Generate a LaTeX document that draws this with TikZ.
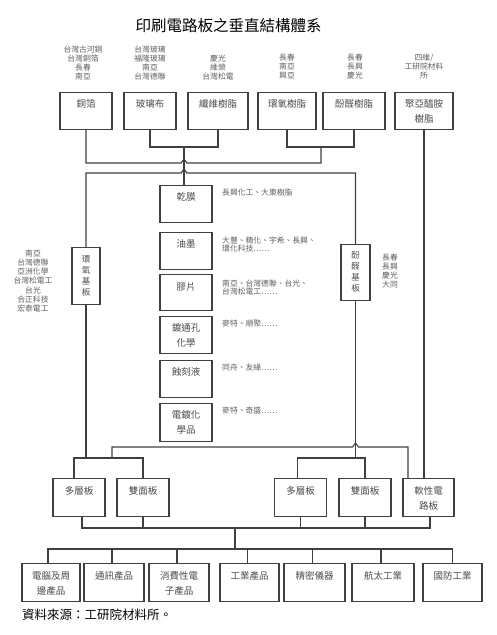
\documentclass[tikz,border=0pt]{standalone}
\usepackage{fontspec}
\setmainfont{Noto Sans CJK TC}
\usetikzlibrary{calc}
\definecolor{lc}{HTML}{404040}
\definecolor{tc}{HTML}{4a4a4a}
\definecolor{gc}{HTML}{5e5e5e}
\tikzset{
 box/.style={draw=lc, line width=1.1pt, rectangle, inner sep=0pt, anchor=north},
 conn/.style={draw=lc, line width=1.1pt},
 btext/.style={text=tc, font=\fontsize{9.5}{15}\selectfont, align=center, inner sep=0pt, anchor=north},
 vtext/.style={text=tc, font=\fontsize{8.5}{11}\selectfont, align=center, inner sep=0pt, anchor=north},
 lbl/.style={text=gc, font=\fontsize{7.8}{9.2}\selectfont, align=center, inner sep=0pt, anchor=north},
 lblw/.style={text=gc, font=\fontsize{7.8}{8.5}\selectfont, align=left, inner sep=0pt, anchor=north west},
}
\newcommand\mkbox[7]{%
  \node[box, minimum width=#4pt, minimum height=#5pt] (#1) at (#2,#3) {};
  \node[btext] (#1-t) at ([yshift=-#6pt]#1.north) {#7};
}
\begin{document}
\begin{tikzpicture}[x=1pt,y=-1pt]
\useasboundingbox (0,0) rectangle (497,635);
% title
\node[font=\fontsize{15.5}{18}\selectfont, inner sep=0pt] (title) at (228.5,26) {印刷電路板之垂直結構體系};
% top labels
\node[lbl] (l-cu) at (83,45.3) {台灣古河銅\\台灣銅箔\\長春\\南亞};
\node[lbl] (l-gl) at (150,45.3) {台灣玻璃\\福隆玻璃\\南亞\\台灣德聯};
\node[lbl] (l-fb) at (218,54.3) {慶光\\維榮\\台灣松電};
\node[lbl] (l-ep) at (287,53.3) {長春\\南亞\\興亞};
\node[lbl] (l-ph) at (355,53.3) {長春\\長興\\慶光};
\node[lbl] (l-pi) at (424,53.3) {四維/\\工研院材料\\所};
% top boxes
\mkbox{cu}{86}{92}{52}{37}{7}{銅箔}
\mkbox{glass}{150}{92}{52}{37}{7}{玻璃布}
\mkbox{fiber}{218}{92}{60}{37}{7}{纖維樹脂}
\mkbox{epoxy}{287}{92}{58}{37}{7}{環氧樹脂}
\mkbox{phenol}{354}{92}{62}{37}{7}{酚醛樹脂}
\mkbox{pi}{424}{92}{58}{37}{7}{聚亞醯胺\\樹脂}
% middle column
\mkbox{dry}{186}{185}{52}{37}{7.5}{乾膜}
\mkbox{ink}{186}{232}{52}{37}{7.5}{油墨}
\mkbox{film}{186}{274}{52}{36}{8}{膠片}
\mkbox{pth}{186}{316}{52}{37}{7.5}{鍍通孔\\化學}
\mkbox{etch}{186}{360}{52}{37}{7}{蝕刻液}
\mkbox{plate}{186}{403}{52}{38}{7.5}{電鍍化\\學品}
% middle labels
\node[lblw] (l-dry) at (222,188.3) {長興化工、大東樹脂};
\node[lblw] (l-ink) at (222,236.3) {大豐、精化、宇希、長興、\\環化科技……};
\node[lblw] (l-film) at (222,279.3) {南亞、台灣德聯、台光、\\台灣松電工……};
\node[lblw] (l-pth) at (222,319.3) {麥特、順聚……};
\node[lblw] (l-etch) at (222,363.3) {同舟、友緣……};
\node[lblw] (l-plate) at (222,406.3) {麥特、奇盛……};
% substrate boxes
\node[box, minimum width=28pt, minimum height=57pt] (epb) at (86,247) {};
\node[vtext] (epb-t) at ([yshift=-8.7pt]epb.north) {環\\氧\\基\\板};
\node[box, minimum width=29pt, minimum height=56pt] (phb) at (355.5,244) {};
\node[vtext] (phb-t) at ([yshift=-7.7pt]phb.north) {酚\\醛\\基\\板};
\node[lbl, font=\fontsize{7.8}{9.3}\selectfont] (l-epb) at (33,249.3) {南亞\\台灣德聯\\亞洲化學\\台灣松電工\\台光\\合正科技\\宏泰電工};
\node[lbl, font=\fontsize{7.8}{9.3}\selectfont] (l-phb) at (390,253.3) {長春\\長興\\慶光\\大同};
% boards
\mkbox{ml1}{79}{478}{52}{38}{8.5}{多層板}
\mkbox{ds1}{143}{478}{52}{38}{8.5}{雙面板}
\mkbox{ml2}{300.5}{478}{52}{38}{8.5}{多層板}
\mkbox{ds2}{365}{478}{52}{38}{8.5}{雙面板}
\mkbox{fpc}{428.5}{478}{51}{38}{8.5}{軟性電\\路板}
% products
\mkbox{p1}{51}{563}{58}{38}{8.5}{電腦及周\\邊產品}
\mkbox{p2}{114}{563}{60}{38}{8.5}{通訊產品}
\mkbox{p3}{179}{563}{60}{38}{8.5}{消費性電\\子產品}
\mkbox{p4}{249.5}{563}{59}{38}{8.5}{工業產品}
\mkbox{p5}{314.5}{563}{61}{38}{8.5}{精密儀器}
\mkbox{p6}{383}{563}{62}{38}{8.5}{航太工業}
\mkbox{p7}{452.5}{563}{59}{38}{8.5}{國防工業}
% footer
\node[anchor=west, font=\fontsize{12.5}{14}\selectfont, inner sep=0pt] (src) at (22,615) {資料來源：工研院材料所。};
% connectors top
\coordinate (gfj) at (184,147);
\coordinate (epj) at (321,147);
\draw[conn] (glass.south) |- (gfj) -| (fiber.south);
\draw[conn] (epoxy.south) |- (epj) -| (phenol.south);
\draw[conn] (gfj) -- (gfj |- dry.north);
\draw[conn] (cu.south) |- (181,163) -- (184,159) -- (187,163) -| (epj);
\draw[conn] (epb.north) |- (181,173) -- (184,169) -- (187,173) -| (phb.north);
% connectors lower
\coordinate (lbar) at (0,458);
\draw[conn] (epb.south) -- (epb.south |- lbar);
\draw[conn] ([xshift=-5pt]ml1.north) |- (lbar -| ds1.north) -- (ds1.north);
\draw[conn] (phb.south) -- (phb.south |- lbar);
\draw[conn] ([xshift=-3pt]ml2.north) |- (lbar -| ds2.north) -- (ds2.north);
\coordinate (hb) at (112,458);
\draw[conn] (hb) -- (112,447) -- (352.5,447) -- (355.5,443) -- (358.5,447) -| ([xshift=-20.5pt]fpc.north);
\draw[conn] (pi.south) -- (pi.south |- fpc.north);
% bus
\coordinate (bus) at (235,528);
\coordinate (bus2) at (235,549);
\draw[conn] ([xshift=3pt]ml1.south) |- ([xshift=1.5pt]fpc.south |- bus) -- ([xshift=1.5pt]fpc.south);
\foreach \n in {ds1,ml2,ds2} \draw[conn] (\n.south) -- (\n.south |- bus);
\draw[conn] (bus) -- (bus2);
\draw[conn] ([xshift=-3pt]p1.north) |- (p7.north |- bus2) -- (p7.north);
\foreach \n in {p2,p3,p4,p5,p6} \draw[conn] ([xshift=-2pt]\n.north) -- ([xshift=-2pt]\n.north |- bus2);
\end{tikzpicture}
\end{document}
